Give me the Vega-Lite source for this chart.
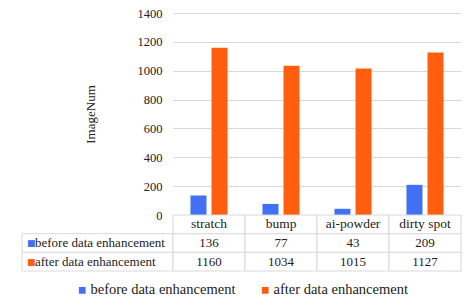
{
  "$schema": "https://vega.github.io/schema/vega-lite/v6.json",
  "padding": {"left": 21, "top": 7, "right": 15, "bottom": 5},
  "background": "white",
  "datasets": {
    "counts": [
      {"category": "stratch", "series": "before data enhancement", "value": 136},
      {"category": "bump", "series": "before data enhancement", "value": 77},
      {"category": "ai-powder", "series": "before data enhancement", "value": 43},
      {"category": "dirty spot", "series": "before data enhancement", "value": 209},
      {"category": "stratch", "series": "after data enhancement", "value": 1160},
      {"category": "bump", "series": "after data enhancement", "value": 1034},
      {"category": "ai-powder", "series": "after data enhancement", "value": 1015},
      {"category": "dirty spot", "series": "after data enhancement", "value": 1127}
    ]
  },
  "columns": 2,
  "bounds": "flush",
  "spacing": 0,
  "resolve": {"scale": {"x": "independent", "y": "independent", "color": "shared"}},
  "concat": [
    {
      "width": 151,
      "height": 202,
      "data": {"values": []},
      "mark": "text",
      "encoding": {}
    },
    {
      "width": 288,
      "height": 202,
      "data": {"name": "counts"},
      "mark": {"type": "bar"},
      "encoding": {
        "x": {"field": "category", "type": "nominal", "sort": ["stratch", "bump", "ai-powder", "dirty spot"],
              "scale": {"paddingInner": 0, "paddingOuter": 0}, "axis": null},
        "xOffset": {"field": "series", "type": "nominal", "sort": ["before data enhancement", "after data enhancement"],
                    "scale": {"paddingInner": 0.24, "paddingOuter": 0.83}},
        "y": {"field": "value", "type": "quantitative", "scale": {"domain": [0, 1400], "nice": false},
              "axis": {"values": [0, 200, 400, 600, 800, 1000, 1200, 1400], "format": "d", "title": "ImageNum",
                       "domain": false, "ticks": false, "labelPadding": 11, "titlePadding": 40,
                       "grid": true, "gridColor": "#d9d9d9", "gridWidth": 1}},
        "color": {"field": "series", "type": "nominal", "sort": ["before data enhancement", "after data enhancement"],
                  "scale": {"domain": ["before data enhancement", "after data enhancement"], "range": ["#4170f5", "#ff5e0e"]},
                  "legend": {"title": null, "orient": "bottom", "direction": "horizontal", "symbolType": "square",
                             "symbolSize": 45, "symbolStrokeWidth": 0, "labelFontSize": 14.5, "columnPadding": 22,
                             "symbolOffset": 0, "offset": 11, "labelOffset": 1}}
      }
    },
    {
      "width": 151,
      "height": 56,
      "data": {"name": "counts"},
      "transform": [{"filter": "datum.category === 'stratch'"}],
      "encoding": {
        "x": {"datum": "rowlabel", "type": "nominal", "scale": {"type": "band", "paddingInner": 0, "paddingOuter": 0}, "axis": null},
        "y": {"field": "series", "type": "nominal",
              "scale": {"type": "band", "domain": ["header", "before data enhancement", "after data enhancement"], "paddingInner": 0, "paddingOuter": 0},
              "axis": null}
      },
      "layer": [
        {"mark": {"type": "rect", "fill": "white", "stroke": "#d9d9d9", "strokeWidth": 1}},
        {"mark": {"type": "text", "text": "■", "align": "left", "dx": 5, "fontSize": 9, "font": "DejaVu Sans"},
         "encoding": {
           "x": {"datum": "rowlabel", "type": "nominal", "bandPosition": 0},
           "color": {"field": "series", "type": "nominal"}
         }},
        {"mark": {"type": "text", "align": "left", "dx": 13, "fontSize": 13, "font": "Liberation Serif", "color": "#222"},
         "encoding": {
           "x": {"datum": "rowlabel", "type": "nominal", "bandPosition": 0},
           "text": {"field": "series"}
         }}
      ]
    },
    {
      "width": 288,
      "height": 56,
      "data": {"name": "counts"},
      "encoding": {
        "x": {"field": "category", "type": "nominal", "sort": ["stratch", "bump", "ai-powder", "dirty spot"],
              "scale": {"type": "band", "paddingInner": 0, "paddingOuter": 0}, "axis": null},
        "y": {"field": "series", "type": "nominal",
              "scale": {"type": "band", "domain": ["header", "before data enhancement", "after data enhancement"], "paddingInner": 0, "paddingOuter": 0},
              "axis": null}
      },
      "layer": [
        {"mark": {"type": "rect", "fill": "white", "stroke": "#d9d9d9", "strokeWidth": 1}},
        {"transform": [{"filter": "datum.series === 'before data enhancement'"}],
         "mark": {"type": "rect", "fill": "white", "stroke": "#d9d9d9", "strokeWidth": 1},
         "encoding": {"y": {"datum": "header", "type": "nominal"}}},
        {"mark": {"type": "text", "fontSize": 13, "font": "Liberation Serif", "color": "#222"},
         "encoding": {"text": {"field": "value"}}},
        {"transform": [{"filter": "datum.series === 'before data enhancement'"}],
         "mark": {"type": "text", "fontSize": 13.5, "font": "Liberation Serif", "color": "#222"},
         "encoding": {"y": {"datum": "header", "type": "nominal"}, "text": {"field": "category"}}}
      ]
    }
  ],
  "config": {
    "view": {"stroke": null},
    "font": "Liberation Serif",
    "text": {"font": "Liberation Serif"},
    "axis": {"labelFont": "Liberation Serif", "labelFontSize": 12.5, "labelColor": "#222",
             "titleFont": "Liberation Serif", "titleFontSize": 13, "titleFontWeight": "normal", "titleColor": "#222"},
    "legend": {"labelFont": "Liberation Serif", "labelColor": "#222",
               "layout": {"bottom": {"anchor": "middle"}}}
  }
}
